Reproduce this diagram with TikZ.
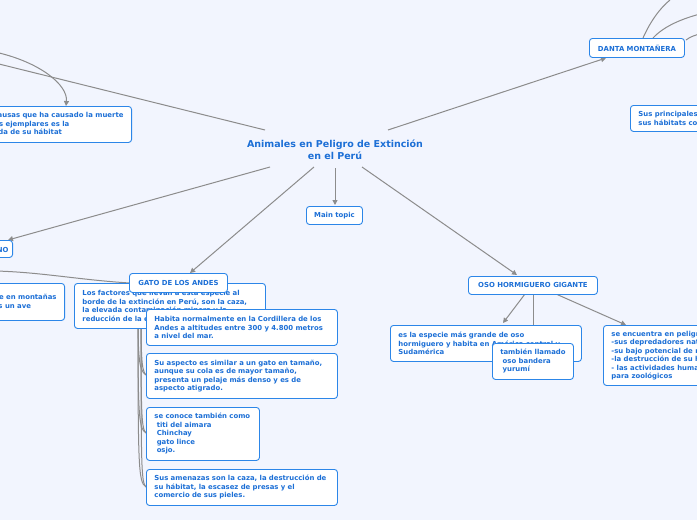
\documentclass[tikz,border=0pt]{standalone}
\usepackage{fontspec}
\setmainfont{DejaVu Sans}
\usetikzlibrary{arrows.meta}
\definecolor{bgc}{HTML}{F2F5FE}
\definecolor{tc}{HTML}{1C6FD6}
\definecolor{bc}{HTML}{2C86E8}
\definecolor{lc}{HTML}{8C8C8C}
\tikzset{
 bx/.style={draw=bc,line width=0.9pt,fill=white,rounded corners=3pt,anchor=north west,align=left,
  text=tc,font=\bfseries\fontsize{6.9}{8.5}\selectfont,inner xsep=8pt,inner ysep=2pt},
 lbl/.style={bx,align=center,inner xsep=4pt},
 con/.style={draw=lc,line width=1pt},
 arr/.style={con,-{Triangle[length=5pt,width=5pt]}}
}
\begin{document}
\begin{tikzpicture}[x=1pt,y=-1pt]
\fill[bgc] (0,0) rectangle (697,520);
\clip (0,0) rectangle (697,520);
\useasboundingbox (0,0) rectangle (697,520);
\node[text=tc,font=\bfseries\fontsize{9.5}{11.5}\selectfont,align=center] (main) at (335,150) {Animales en Peligro de Extinción\\ en el Perú};
\coordinate (lf1) at (-5,63);
\coordinate (lf2) at (-5,52);
\coordinate (lf3) at (-5,271);
\coordinate (tp1) at (670,0);
\coordinate (tp2) at (700,14);
\coordinate (tp3) at (700,34);
% connectors
\draw[con] (265,130) -- (lf1);
\draw[arr] (lf2) .. controls (40,62) and (68,85) .. (66,106);
\draw[arr] (270,167) -- (8,240);
\draw[arr] (314,167) -- (190,273);
\draw[arr] (335,168) -- (335,205);
\draw[arr] (362,167) -- (517,275);
\draw[arr] (388,130) -- (606,58);
\draw[con] (643,38) .. controls (650,22) and (660,8) .. (tp1);
\draw[con] (653,38) .. controls (665,25) and (685,18) .. (tp2);
\draw[con] (686,40) .. controls (690,37) and (695,35) .. (tp3);
\draw[con] (130,283) .. controls (80,280) and (40,272) .. (lf3);
\foreach \yy in {327,375,433,487}{
 \draw[con] (138,292) .. controls (138,\yy-20) and (138,\yy-5) .. (146,\yy);
 \draw[con] (141,292) .. controls (141,\yy-20) and (141,\yy-5) .. (146,\yy);
}
\draw[arr] (525,294) -- (503,323);
\draw[con] (533,294) -- (533,325);
\draw[arr] (556,294) -- (626,325);
% boxes
\node[lbl,minimum width=56pt,minimum height=18pt] (mt) at (306,206) {Main topic};
\node[lbl,minimum width=95pt,minimum height=19pt] (danta) at (589,38) {DANTA MONTAÑERA};
\node[bx,minimum height=26pt] (sus) at (630,105) {Sus principales amenazas\\sus hábitats con};
\node[bx,minimum height=36pt,anchor=north east] (causas) at (132,106) {Las causas que ha causado la muerte\\de sus ejemplares es la\\pérdida de su hábitat};
\node[lbl,minimum height=17pt,anchor=north east] (condor) at (13,240) {CÓNDOR ANDINO};
\node[bx,minimum height=37pt,anchor=north east] (vive) at (65,283) {Vive en montañas\\y es un ave};
\node[bx,text width=175pt,minimum height=45pt] (fact) at (74,283) {Los factores que llevan a esta especie al\\borde de la extinción en Perú, son la caza,\\la elevada contaminación minera y la\\reducción de la extensión de su hábitat.};
\node[lbl,minimum width=98pt,minimum height=19pt] (gato) at (129,273) {GATO DE LOS ANDES};
\node[bx,text width=175pt,minimum height=36pt] (hab) at (146,309) {Habita normalmente en la Cordillera de los\\Andes a altitudes entre 300 y 4.800 metros\\a nivel del mar.};
\node[bx,text width=175pt,minimum height=45pt] (asp) at (146,353) {Su aspecto es similar a un gato en tamaño,\\aunque su cola es de mayor tamaño,\\presenta un pelaje más denso y es de\\aspecto atigrado.};
\node[bx,text width=97pt,minimum height=53pt] (cono) at (146,407) {se conoce también como\\\ titi del aimara\\\ Chinchay\\\ gato lince\\\ osjo.};
\node[bx,text width=175pt,minimum height=36pt] (amen) at (146,469) {Sus amenazas son la caza, la destrucción de\\su hábitat, la escasez de presas y el\\comercio de sus pieles.};
\node[lbl,minimum width=129pt,minimum height=18pt] (oso) at (468,276) {OSO HORMIGUERO GIGANTE};
\node[bx,text width=175pt,minimum height=36pt] (esp) at (390,325) {es la especie más grande de oso\\hormiguero y habita en América central y\\Sudamérica};
\node[bx,minimum width=81pt,minimum height=36pt,inner xsep=6pt] (tamb) at (492,343) {también llamado\\\ oso bandera\\\ yurumí};
\node[bx,minimum height=60pt] (encu) at (603,325) {se encuentra en peligro por:\\-sus depredadores naturales\\-su bajo potencial de reproducción\\-la destrucción de su hábitat\\- las actividades humanas\\para zoológicos};
\end{tikzpicture}
\end{document}
